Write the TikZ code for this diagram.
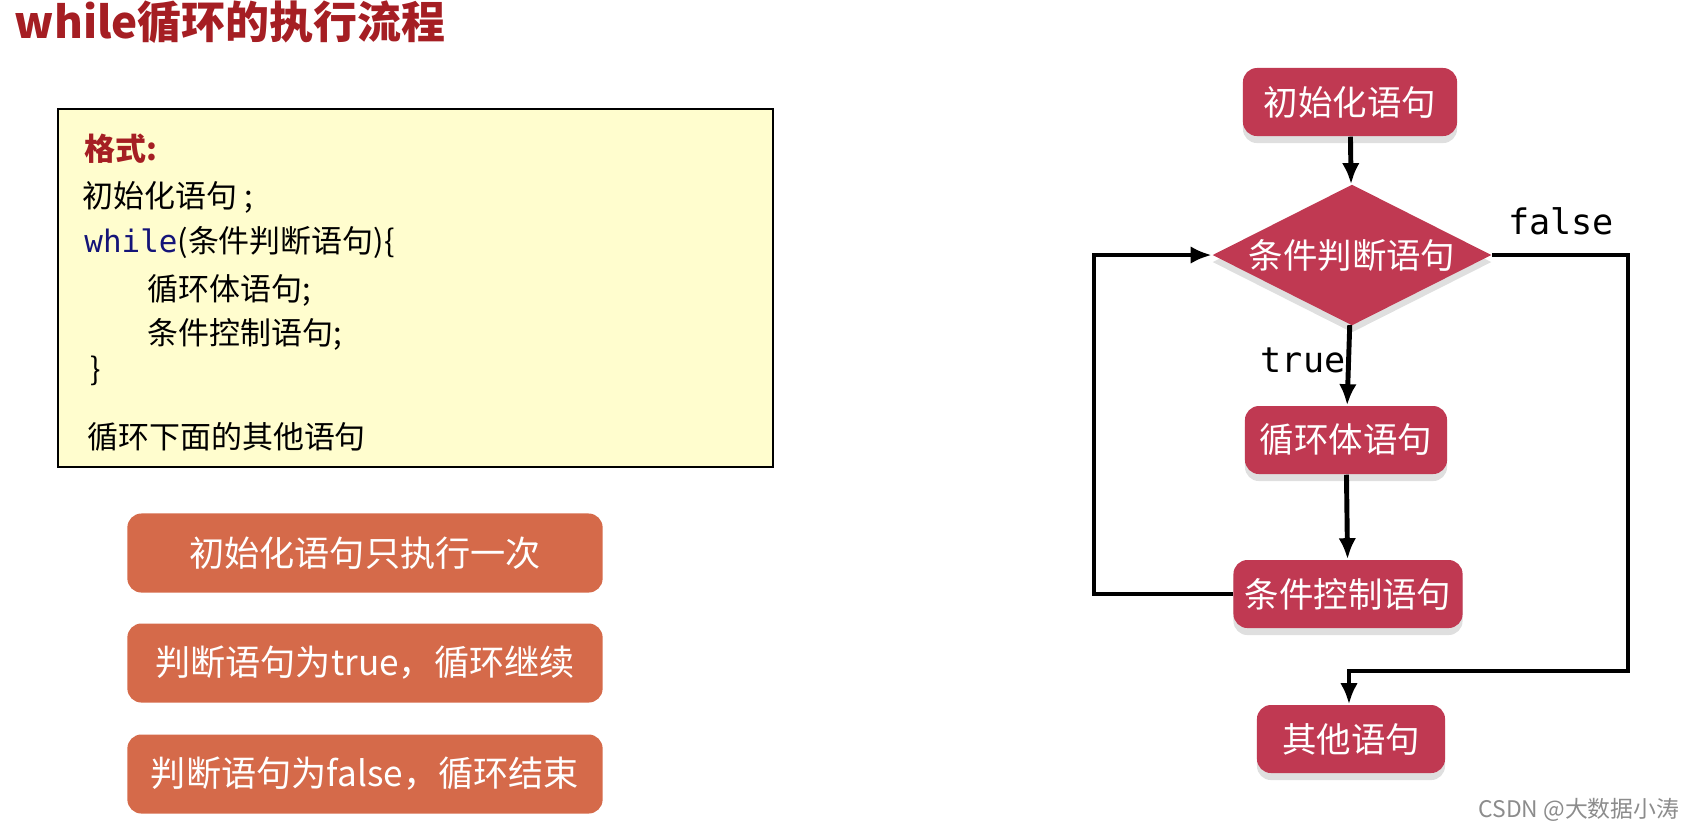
\documentclass[tikz,border=0pt]{standalone}
\usepackage{fontspec}
\setmainfont{Noto Sans CJK SC}
\newfontfamily\codefont{DejaVu Sans Mono}
\usetikzlibrary{arrows.meta,shapes.geometric,shadows}
\definecolor{titlered}{RGB}{165,30,35}
\definecolor{boxyellow}{RGB}{255,253,206}
\definecolor{noteorange}{RGB}{213,106,74}
\definecolor{flowred}{RGB}{192,57,82}
\definecolor{codeblue}{RGB}{20,20,120}

\begin{document}
\begin{tikzpicture}[x=0.01cm, y=-0.01cm,
    every node/.style={inner sep=0pt},
    note/.style={fill=noteorange, rounded corners=4pt, minimum width=4.75cm,
        minimum height=0.79cm, text=white, font=\fontsize{10}{10}\selectfont},
    flow/.style={fill=flowred, rounded corners=4pt, minimum height=0.68cm,
        text=white, font=\fontsize{9.8}{9.8}\selectfont,
        drop shadow={shadow xshift=0pt, shadow yshift=-2pt, opacity=.25}},
    arr/.style={line width=1.4pt, -{Latex[length=6pt,width=5pt]}}]
        \useasboundingbox (0,0) rectangle (1691,829);
        % title
        \node[anchor=west, text=titlered, font=\fontsize{12.5}{12.5}\selectfont\bfseries]
        (title) at (14,22) {while循环的执行流程};
        % code box
        \filldraw[fill=boxyellow, draw=black, line width=0.8pt] (58,109) rectangle (773,467);
        \begin{scope}[every node/.style={anchor=west, font=\fontsize{8.8}{8.8}\selectfont}]
        \node[text=titlered, font=\fontsize{8.8}{8.8}\selectfont\bfseries] (fmt) at (72,149) {格式:};
        \node (l1) at (70,197) {初始化语句 ;};
        \node (l2) at (72,242) {{\codefont\color{codeblue}while}(条件判断语句)\{};
        \node (l3) at (135,290) {循环体语句;};
        \node (l4) at (135,334) {条件控制语句;};
        \node (l5) at (78,371) {\}};
        \node (l6) at (75,437) {循环下面的其他语句};
        \end{scope}
        % notes
        \node[note] (n1) at (365,553) {初始化语句只执行一次};
        \node[note] (n2) at (365,663) {判断语句为true，循环继续};
        \node[note] (n3) at (365,774) {判断语句为false，循环结束};
        % flow chart
        \node[flow, minimum width=2.14cm] (init) at (1350,102) {初始化语句};
        \node[diamond, aspect=1.98, fill=flowred, text=white, minimum width=2.79cm,
            minimum height=1.41cm, font=\fontsize{9.8}{9.8}\selectfont,
            drop shadow={shadow xshift=0pt, shadow yshift=-2pt, opacity=.25}]
            (cond) at (1352,255) {条件判断语句};
        \node[flow, minimum width=2.02cm] (body) at (1346,440) {循环体语句};
        \node[flow, minimum width=2.29cm] (ctrl) at (1348,594) {条件控制语句};
        \node[flow, minimum width=1.88cm] (other) at (1351,739) {其他语句};
        \coordinate (lt) at (1094,594);
        \coordinate (rt) at (1628,255);
        \coordinate (rb) at (1628,671);
        \coordinate (mb) at (1349,671);
        \draw[arr] (init) -- (cond);
        \draw[arr] (cond) -- (body);
        \draw[arr] (body) -- (ctrl);
        \draw[arr] (ctrl.west) -- (lt) -- (lt |- cond) -- (cond.west);
        \draw[arr] (cond.east) -- (rt) -- (rb) -- (mb) -- (other.north -| mb);
        \node[font=\codefont\fontsize{10}{10}\selectfont] (f) at (1561,221) {false};
        \node[font=\codefont\fontsize{10}{10}\selectfont] (t) at (1303,360) {true};
        \node[text=black!45, font=\fontsize{6.5}{6.5}\selectfont, anchor=east] (wm) at (1680,810) {CSDN @大数据小涛};
    \end{tikzpicture}
\end{document}
